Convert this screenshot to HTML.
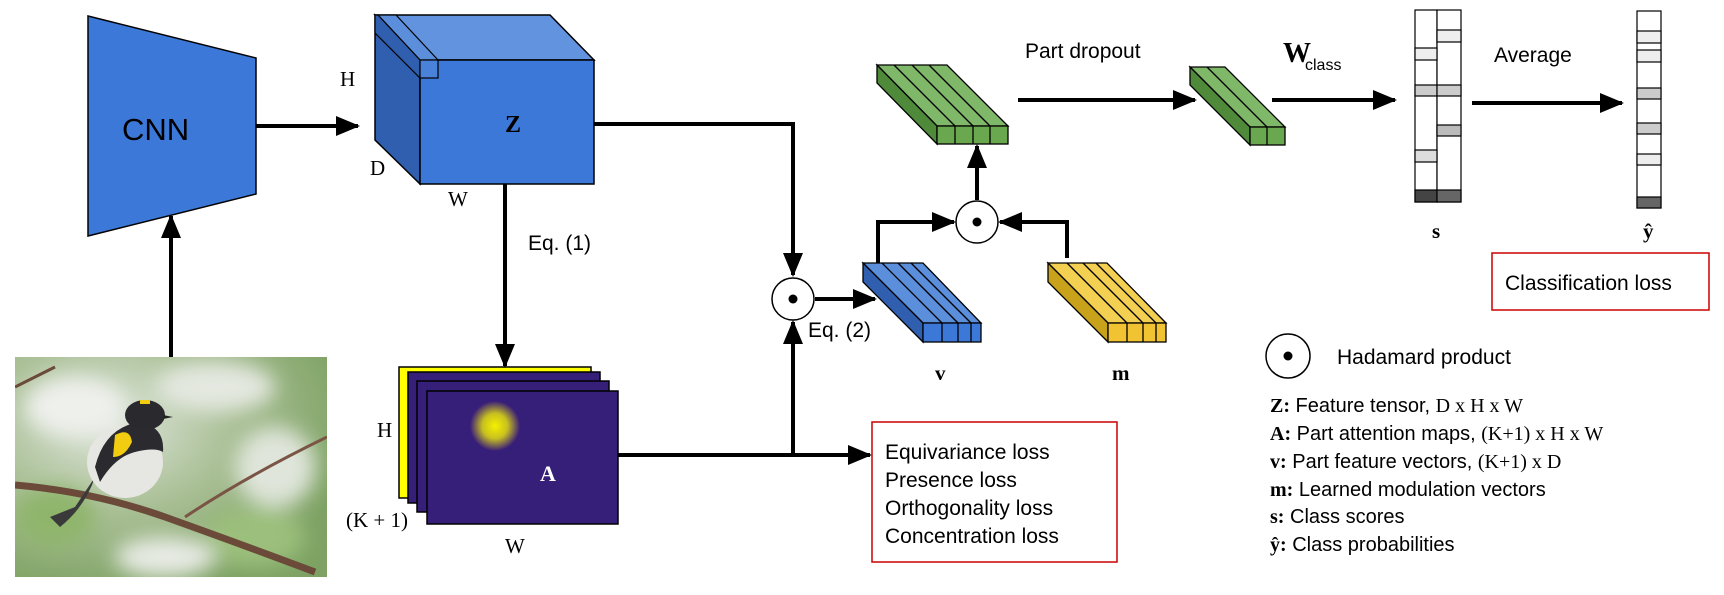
<!DOCTYPE html>
<html><head><meta charset="utf-8"><style>
body{margin:0;background:#fff;width:1724px;height:595px;overflow:hidden}
svg{display:block}
.s{font-family:"Liberation Sans",sans-serif}
.r{font-family:"Liberation Serif",serif}
</style></head><body>
<svg width="1724" height="595" viewBox="0 0 1724 595" xmlns="http://www.w3.org/2000/svg">
<defs>
<radialGradient id="blob"><stop offset="0" stop-color="#f4f000"/><stop offset="0.5" stop-color="#c8c020"/><stop offset="1" stop-color="#3a1e78"/></radialGradient>
<radialGradient id="bg1" cx="0.3" cy="0.3" r="0.8"><stop offset="0" stop-color="#dfe6dc"/><stop offset="0.5" stop-color="#a9bf95"/><stop offset="1" stop-color="#7da263"/></radialGradient>
<filter id="bl"><feGaussianBlur stdDeviation="10"/></filter>
<marker id="a2" markerWidth="24" markerHeight="20" refX="22" refY="10" orient="auto" markerUnits="userSpaceOnUse"><path d="M0,0 L24,10 L0,20 z" fill="#000"/></marker>
</defs>
<g stroke="#000" stroke-width="4" fill="none">
<line x1="171" y1="357" x2="171" y2="216" marker-end="url(#a2)"/>
<line x1="256" y1="126" x2="358" y2="126" marker-end="url(#a2)"/>
<polyline points="594,124 793,124 793,275" marker-end="url(#a2)"/>
<line x1="505" y1="184" x2="505" y2="366" marker-end="url(#a2)"/>
<line x1="618" y1="455" x2="870" y2="455" marker-end="url(#a2)"/>
<line x1="793" y1="455" x2="793" y2="322" marker-end="url(#a2)"/>
<line x1="815" y1="299" x2="875" y2="299" marker-end="url(#a2)"/>
<polyline points="878,263 878,222 954,222" marker-end="url(#a2)"/>
<polyline points="1067,258 1067,222 1000,222" marker-end="url(#a2)"/>
<line x1="977" y1="200" x2="977" y2="146" marker-end="url(#a2)"/>
<line x1="1018" y1="100" x2="1195" y2="100" marker-end="url(#a2)"/>
<line x1="1272" y1="100" x2="1395" y2="100" marker-end="url(#a2)"/>
<line x1="1472" y1="103" x2="1622" y2="103" marker-end="url(#a2)"/>
</g>
<polygon points="88,16 256,58 256,194 88,236" fill="#3c78d8" stroke="#000" stroke-width="1.5"/>
<text x="122" y="140" class="s" font-size="31">CNN</text>
<polygon points="375,15 550,15 594,60 420,60" fill="#6293de" stroke="#000" stroke-width="1.5"/>
<polygon points="375,15 420,60 420,184 375,140" fill="#2f5fae" stroke="#000" stroke-width="1.5"/>
<rect x="420" y="60" width="174" height="124" fill="#3c78d8" stroke="#000" stroke-width="1.5"/>
<polygon points="378,15 396,15 438,60 420,60" fill="#5b8fdc" stroke="#000" stroke-width="1.2"/>
<polygon points="375,15 378,15 420,60 420,78 375,33" fill="#2f5fae" stroke="#000" stroke-width="1.2"/>
<rect x="420" y="60" width="18" height="18" fill="#4a82da" stroke="#000" stroke-width="1.2"/>
<text x="340" y="86" class="r" font-size="21">H</text>
<text x="370" y="175" class="r" font-size="21">D</text>
<text x="448" y="206" class="r" font-size="21">W</text>
<text x="505" y="132" class="r" font-size="24" font-weight="bold">Z</text>
<text x="528" y="250" class="s" font-size="21">Eq. (1)</text>
<rect x="399" y="367" width="192" height="131" fill="#ffff00" stroke="#000" stroke-width="1.5"/>
<rect x="408" y="372" width="192" height="131" fill="#361f78" stroke="#000" stroke-width="1.5"/>
<rect x="417" y="381" width="192" height="131" fill="#361f78" stroke="#000" stroke-width="1.5"/>
<rect x="427" y="391" width="191" height="133" fill="#361f78" stroke="#000" stroke-width="1.5"/>
<circle cx="495" cy="426" r="25" fill="url(#blob)"/>
<text x="540" y="481" class="r" font-size="22" font-weight="bold" fill="#fff">A</text>
<text x="377" y="437" class="r" font-size="21">H</text>
<text x="346" y="527" class="r" font-size="21">(K + 1)</text>
<text x="505" y="553" class="r" font-size="21">W</text>
<g fill="#fff" stroke="#000" stroke-width="1.5">
<circle cx="793" cy="299" r="21"/><circle cx="977" cy="222" r="21"/><circle cx="1288" cy="356" r="22"/>
</g>
<g fill="#000"><circle cx="793" cy="299" r="4.5"/><circle cx="977" cy="222" r="4.5"/><circle cx="1288" cy="356" r="4.5"/></g>
<text x="808" y="337" class="s" font-size="21">Eq. (2)</text>
<g stroke="#000" stroke-width="1.3">
<polygon points="877,65 947,65 1008,126 937,126" fill="#80b86a"/>
<polygon points="877,65 937,126 937,144 877,83" fill="#4e8a3a"/>
<rect x="937" y="126" width="71" height="18" fill="#6aa84f"/>
<line x1="894" y1="65" x2="955" y2="126"/><line x1="912" y1="65" x2="973" y2="126"/><line x1="929" y1="65" x2="990" y2="126"/>
<line x1="955" y1="126" x2="955" y2="144"/><line x1="973" y1="126" x2="973" y2="144"/><line x1="990" y1="126" x2="990" y2="144"/>
<polygon points="1190,67 1225,67 1285,127 1250,127" fill="#80b86a"/>
<polygon points="1190,67 1250,127 1250,145 1190,85" fill="#4e8a3a"/>
<rect x="1250" y="127" width="35" height="18" fill="#6aa84f"/>
<line x1="1207" y1="67" x2="1267" y2="127"/><line x1="1267" y1="127" x2="1267" y2="145"/>
<polygon points="863,263 923,263 981,323 923,323" fill="#5b8fdc"/>
<polygon points="863,263 923,323 923,342 863,282" fill="#2f5fae"/>
<rect x="923" y="323" width="58" height="19" fill="#3c78d8"/>
<line x1="882" y1="263" x2="942" y2="323"/><line x1="898" y1="263" x2="958" y2="323"/><line x1="911" y1="263" x2="971" y2="323"/>
<line x1="942" y1="323" x2="942" y2="342"/><line x1="958" y1="323" x2="958" y2="342"/><line x1="971" y1="323" x2="971" y2="342"/>
<polygon points="1048,263 1107,263 1166,323 1108,323" fill="#f3cf52"/>
<polygon points="1048,263 1108,323 1108,342 1048,282" fill="#c9a21c"/>
<rect x="1108" y="323" width="58" height="19" fill="#f1c232"/>
<line x1="1067" y1="263" x2="1127" y2="323"/><line x1="1083" y1="263" x2="1143" y2="323"/><line x1="1096" y1="263" x2="1156" y2="323"/>
<line x1="1127" y1="323" x2="1127" y2="342"/><line x1="1143" y1="323" x2="1143" y2="342"/><line x1="1156" y1="323" x2="1156" y2="342"/>
</g>
<text x="935" y="380" class="r" font-size="21" font-weight="bold">v</text>
<text x="1112" y="380" class="r" font-size="21" font-weight="bold">m</text>
<text x="1025" y="58" class="s" font-size="21">Part dropout</text>
<text x="1283" y="62" class="r" font-size="28" font-weight="bold">W</text>
<text x="1305" y="70" class="s" font-size="16">class</text>
<text x="1494" y="62" class="s" font-size="21">Average</text>
<g stroke="#000" stroke-width="1.2">
<rect x="1415" y="10" width="22" height="192" fill="#fff"/>
<rect x="1437" y="10" width="24" height="192" fill="#fff"/>
<rect x="1415" y="48" width="22" height="12" fill="#eee"/>
<rect x="1415" y="85" width="22" height="11" fill="#ccc"/>
<rect x="1415" y="150" width="22" height="12" fill="#ddd"/>
<rect x="1415" y="190" width="22" height="12" fill="#444"/>
<rect x="1437" y="30" width="24" height="12" fill="#eee"/>
<rect x="1437" y="85" width="24" height="11" fill="#ccc"/>
<rect x="1437" y="125" width="24" height="11" fill="#bbb"/>
<rect x="1437" y="190" width="24" height="12" fill="#666"/>
<rect x="1637" y="11" width="24" height="197" fill="#fff"/>
<rect x="1637" y="31" width="24" height="12" fill="#eee"/>
<rect x="1637" y="50" width="24" height="12" fill="#eee"/>
<rect x="1637" y="88" width="24" height="11" fill="#ccc"/>
<rect x="1637" y="123" width="24" height="11" fill="#ccc"/>
<rect x="1637" y="154" width="24" height="11" fill="#eee"/>
<rect x="1637" y="197" width="24" height="11" fill="#666"/>
</g>
<text x="1432" y="238" class="r" font-size="21" font-weight="bold">s</text>
<text x="1643" y="238" class="r" font-size="21" font-weight="bold">ŷ</text>
<rect x="1492" y="253" width="217" height="57" fill="#fff" stroke="#c00" stroke-width="1.5"/>
<text x="1505" y="290" class="s" font-size="21">Classification loss</text>
<rect x="872" y="422" width="245" height="140" fill="#fff" stroke="#c00" stroke-width="1.5"/>
<g class="s" font-size="21">
<text x="885" y="459">Equivariance loss</text>
<text x="885" y="487">Presence loss</text>
<text x="885" y="515">Orthogonality loss</text>
<text x="885" y="543">Concentration loss</text>
</g>
<text x="1337" y="364" class="s" font-size="21">Hadamard product</text>
<g font-size="20">
<text x="1270" y="412"><tspan class="r" font-weight="bold">Z:</tspan><tspan class="s"> Feature tensor, </tspan><tspan class="r">D x H x W</tspan></text>
<text x="1270" y="440"><tspan class="r" font-weight="bold">A:</tspan><tspan class="s"> Part attention maps, </tspan><tspan class="r">(K+1) x H x W</tspan></text>
<text x="1270" y="468"><tspan class="r" font-weight="bold">v:</tspan><tspan class="s"> Part feature vectors, </tspan><tspan class="r">(K+1) x D</tspan></text>
<text x="1270" y="496"><tspan class="r" font-weight="bold">m:</tspan><tspan class="s"> Learned modulation vectors</tspan></text>
<text x="1270" y="523"><tspan class="r" font-weight="bold">s:</tspan><tspan class="s"> Class scores</tspan></text>
<text x="1270" y="551"><tspan class="r" font-weight="bold">ŷ:</tspan><tspan class="s"> Class probabilities</tspan></text>
</g>
<svg x="15" y="357" width="312" height="220" viewBox="0 0 312 220">
<rect width="312" height="220" fill="url(#bg1)"/>
<g filter="url(#bl)">
<ellipse cx="60" cy="50" rx="50" ry="30" fill="#eef0ec"/>
<ellipse cx="200" cy="30" rx="60" ry="25" fill="#e4e8e0"/>
<ellipse cx="260" cy="110" rx="40" ry="40" fill="#dfe5da"/>
<ellipse cx="40" cy="160" rx="40" ry="30" fill="#8fb56c"/>
<ellipse cx="240" cy="180" rx="50" ry="30" fill="#9bbf7b"/>
<ellipse cx="150" cy="200" rx="50" ry="20" fill="#e8ebe5"/>
</g>
<path d="M0,128 Q80,135 150,160 Q220,185 300,215" stroke="#6b4a3a" stroke-width="7" fill="none"/>
<path d="M170,160 Q230,120 312,80" stroke="#7a5545" stroke-width="3" fill="none"/>
<path d="M0,30 L40,10" stroke="#6b4a3a" stroke-width="3"/>
<path d="M35,160 L60,150 L80,120 Q70,150 45,170 Z" fill="#3a3a3a"/>
<ellipse cx="110" cy="105" rx="38" ry="36" fill="#e6e6e2"/>
<path d="M80,110 Q90,70 125,65 Q150,70 148,95 Q140,90 120,95 Q100,100 85,125 Z" fill="#2b2b2f"/>
<ellipse cx="130" cy="58" rx="20" ry="15" fill="#2a2a2e"/>
<path d="M148,58 L158,60 L148,62 Z" fill="#222"/>
<rect x="125" y="43" width="10" height="4" fill="#f2cc10"/>
<path d="M100,78 Q115,70 117,85 Q110,100 98,100 Z" fill="#f2cc10"/>
</svg>
</svg>
</body></html>
